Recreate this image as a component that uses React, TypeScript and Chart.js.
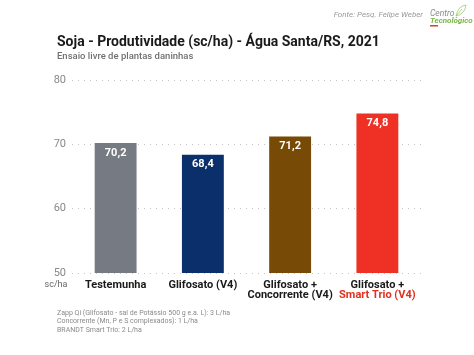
import React, { useEffect, useRef } from "react";
import { Chart, registerables } from "chart.js";

Chart.register(...registerables);

const categories: string[][] = [
  ["Testemunha"],
  ["Glifosato (V4)"],
  ["Glifosato +", "Concorrente (V4)"],
  ["Glifosato +", "Smart Trio (V4)"],
];
const values: number[] = [70.2, 68.4, 71.2, 74.8];
const barColors: string[] = ["#767a82", "#0b2f6a", "#774a06", "#ee3124"];
const yTicks: number[] = [50, 60, 70, 80];
const titleText = "Soja - Produtividade (sc/ha) - Água Santa/RS, 2021";
const subtitleText = "Ensaio livre de plantas daninhas";
const sourceText = "Fonte: Pesq. Felipe Weber";
const unitText = "sc/ha";
const footnotes: string[] = [
  "Zapp Qi (Glifosato - sal de Potássio 500 g e.a. L): 3 L/ha",
  "Concorrente (Mn, P e S complexados): 1 L/ha",
  "BRANDT Smart Trio: 2 L/ha",
];

const FONT = "'Roboto', sans-serif";

const decorPlugin = {
  id: "decor",
  afterDraw(chart: any) {
    const ctx = chart.ctx as CanvasRenderingContext2D;
    const xs = chart.scales.x;
    ctx.save();
    ctx.textBaseline = "middle";
    ctx.textAlign = "left";
    ctx.fillStyle = "#1a1a1a";
    ctx.font = `bold 14px ${FONT}`;
    ctx.fillText(titleText, 57, 42);
    ctx.fillStyle = "#707070";
    ctx.font = `500 9.5px ${FONT}`;
    ctx.fillText(subtitleText, 57, 57);
    // source
    ctx.fillStyle = "#9a9a9a";
    ctx.font = `italic 8px ${FONT}`;
    ctx.textAlign = "right";
    ctx.fillText(sourceText, 423, 15);
    // logo
    ctx.textAlign = "left";
    ctx.fillStyle = "#8a8a8a";
    ctx.font = `italic 8.5px ${FONT}`;
    ctx.fillText("Centro", 430, 14);
    ctx.fillStyle = "#7ab648";
    ctx.font = `italic bold 8px ${FONT}`;
    ctx.fillText("Tecnológico", 430, 21);
    ctx.fillStyle = "#e03a2a";
    ctx.fillRect(430, 25, 8, 1.5);
    ctx.strokeStyle = "#9acb6a";
    ctx.lineWidth = 0.8;
    ctx.beginPath();
    ctx.moveTo(456, 16);
    ctx.quadraticCurveTo(458, 6, 466, 5);
    ctx.quadraticCurveTo(465, 14, 456, 16);
    ctx.moveTo(456, 16);
    ctx.lineTo(462, 9);
    ctx.stroke();
    // unit
    ctx.fillStyle = "#666";
    ctx.font = `9px ${FONT}`;
    ctx.textAlign = "center";
    ctx.fillText(unitText, 56, 285);
    // x labels
    ctx.font = `bold 11px ${FONT}`;
    categories.forEach((lines, i) => {
      const x = xs.getPixelForValue(i);
      lines.forEach((ln, j) => {
        ctx.fillStyle = i === 3 && j === 1 ? "#e0301f" : "#1a1a1a";
        ctx.fillText(ln, x, 285 + j * 10.5);
      });
    });
    // value labels
    const meta = chart.getDatasetMeta(0);
    ctx.fillStyle = "#ffffff";
    ctx.font = `bold 11px ${FONT}`;
    meta.data.forEach((bar: any, i: number) => {
      ctx.fillText(values[i].toFixed(1).replace(".", ","), bar.x, bar.y + 10);
    });
    // footnotes
    ctx.textAlign = "left";
    ctx.fillStyle = "#8a8a8a";
    ctx.font = `7px ${FONT}`;
    footnotes.forEach((f, i) => ctx.fillText(f, 57, 313 + i * 8.7));
    ctx.restore();
  },
};

export default function App() {
  const ref = useRef<HTMLCanvasElement>(null);
  useEffect(() => {
    document.body.style.margin = "0";
    const chart = new Chart(ref.current!, {
      type: "bar",
      data: {
        labels: categories.map((c) => c.join(" ")),
        datasets: [
          {
            data: values,
            backgroundColor: barColors,
            barPercentage: 0.48,
            categoryPercentage: 1,
          },
        ],
      },
      options: {
        responsive: false,
        animation: false,
        layout: { padding: { left: 0, right: 53, top: 80, bottom: 74 } },
        plugins: { legend: { display: false }, tooltip: { enabled: false }, title: { display: false } },
        scales: {
          x: {
            ticks: { display: false },
            grid: { display: false },
            border: { display: false },
          },
          y: {
            min: 50,
            max: 80,
            afterFit: (s: any) => {
              s.width = 72;
            },
            afterBuildTicks: (s: any) => {
              s.ticks = yTicks.map((v) => ({ value: v }));
            },
            ticks: {
              color: "#888",
              font: { size: 11, family: FONT },
              padding: 6,
              callback: (v: any) => String(v),
            },
            grid: { color: "#c4c4c4", drawTicks: false, tickLength: 0, lineWidth: 1 },
            border: { display: false, dash: [1, 5] },
          },
        },
      },
      plugins: [decorPlugin],
    });
    return () => chart.destroy();
  }, []);
  return (
    <div style={{ width: 474, height: 355 }}>
      <canvas ref={ref} width={474} height={355} />
    </div>
  );
}
